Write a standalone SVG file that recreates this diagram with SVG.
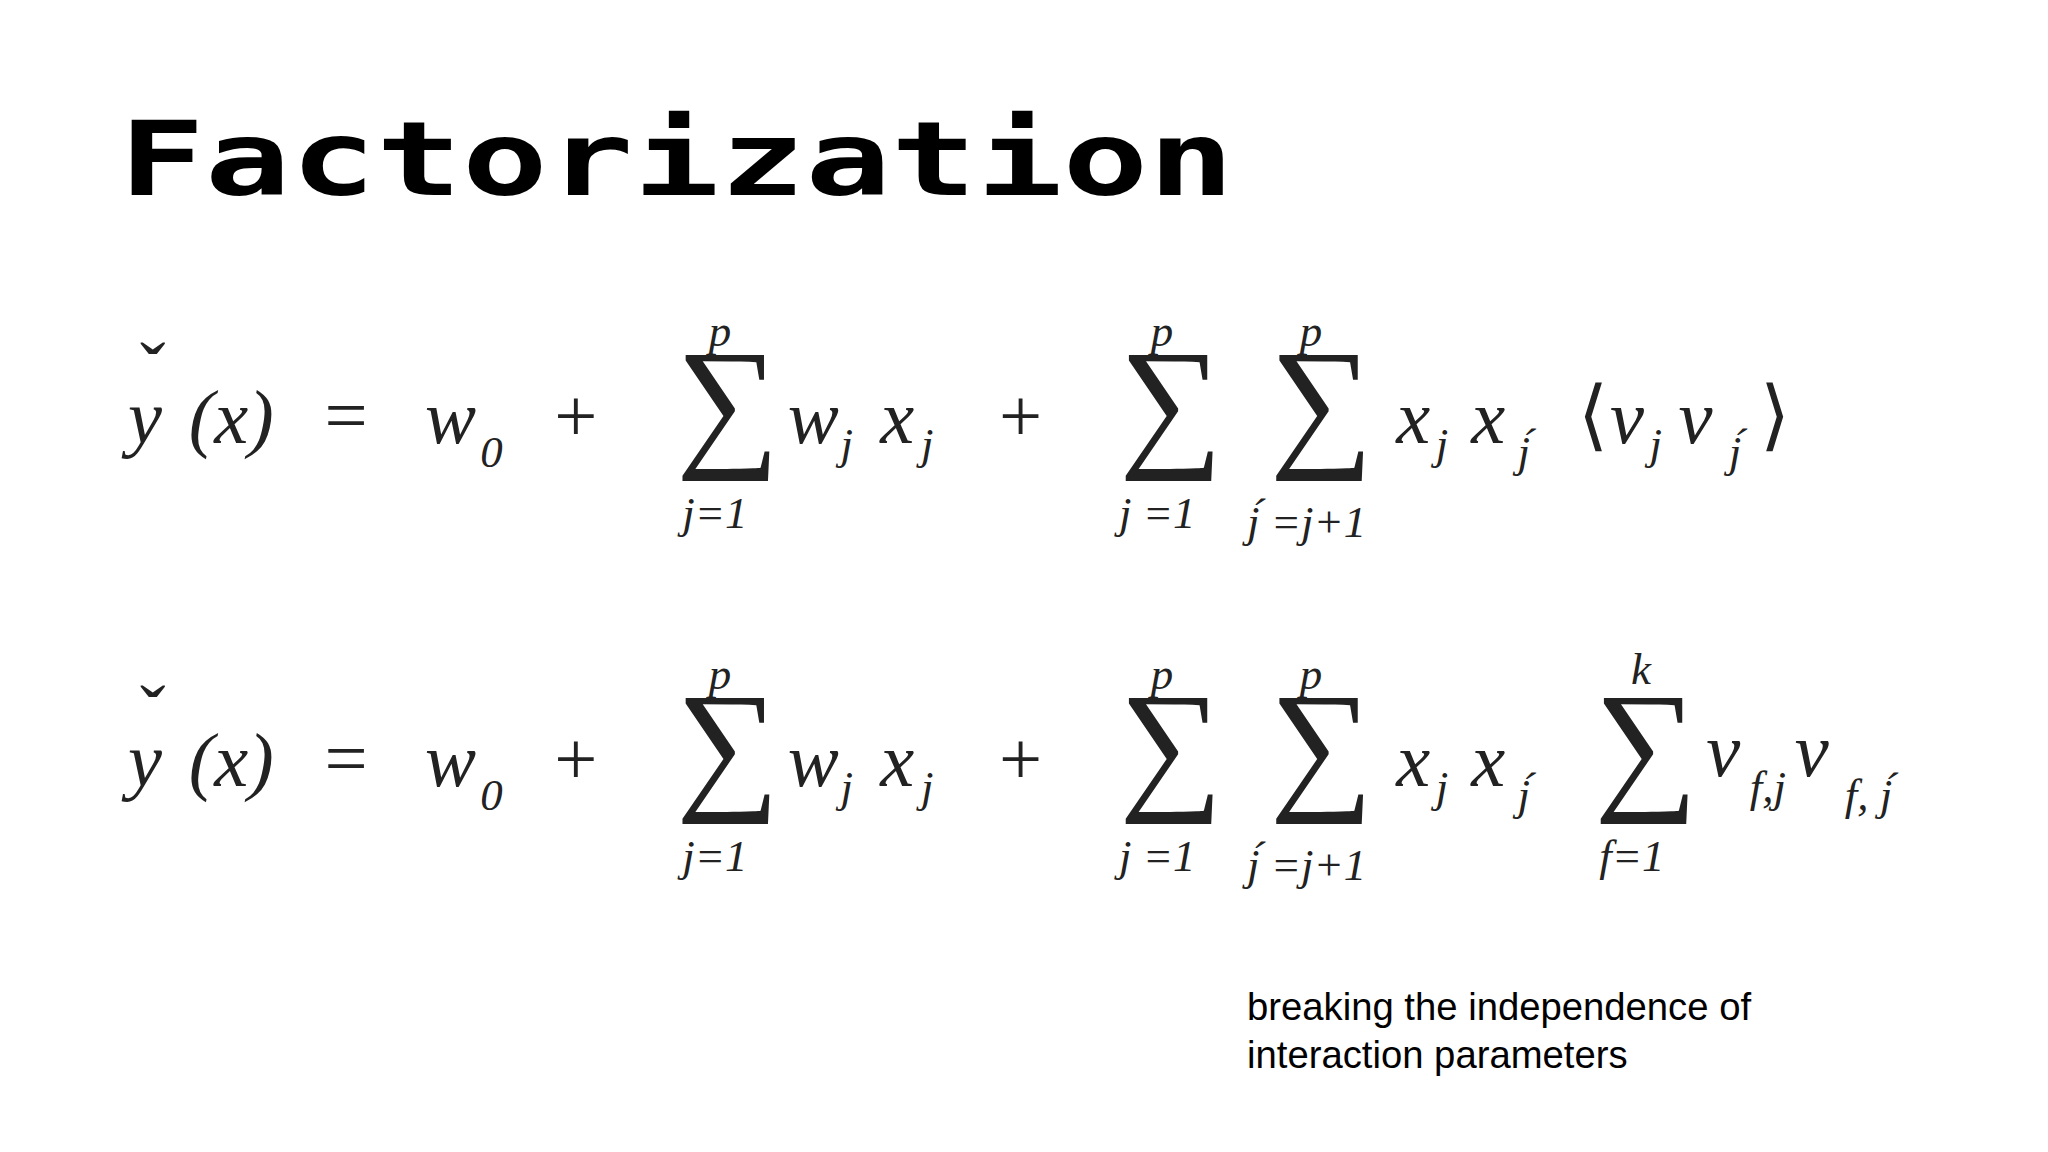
<svg xmlns="http://www.w3.org/2000/svg" width="2048" height="1152" viewBox="0 0 2048 1152">
<style>
.m{font-family:"Liberation Serif",serif;font-style:italic;fill:#222;font-size:58px}
.s{font-family:"Liberation Serif",serif;font-style:italic;fill:#222;font-size:34px}
.o{font-family:"Liberation Serif",serif;fill:#222;font-size:58px}
.S{font-family:"Liberation Serif",serif;fill:#222;font-size:110px}
.c{font-family:"Liberation Sans",sans-serif;fill:#000;font-size:29px}
</style>
<rect width="2048" height="1152" fill="#fff"/>
<g id="title"><text x="119" y="195" font-family="DejaVu Sans Mono,monospace" font-weight="bold" font-size="104" textLength="1115" lengthAdjust="spacingAndGlyphs" fill="#000">Factorization</text></g>
<g transform="scale(1.3196)">
<g id="eq1">
<text class="m" x="97" y="336">y</text><text class="o" x="106" y="300" font-size="40">ˇ</text>
<text class="m" x="143" y="336">(x)</text>
<text class="o" x="246" y="334">=</text>
<text class="m" x="322" y="336">w</text><text class="s" x="364" y="354">0</text>
<text class="o" x="420" y="334">+</text>
<text class="S" x="512" y="341">∑</text><text class="s" x="537" y="262">p</text><text class="s" x="517" y="400">j=1</text>
<text class="m" x="597" y="336">w</text><text class="s" x="637" y="348">j</text>
<text class="m" x="667" y="336">x</text><text class="s" x="698" y="348">j</text>
<text class="o" x="757" y="334">+</text>
<text class="S" x="848" y="341">∑</text><text class="s" x="872" y="262">p</text><text class="s" x="848" y="400">j =1</text>
<text class="S" x="962" y="341">∑</text><text class="s" x="985" y="262">p</text><text class="s" x="945" y="407">j́ =j+1</text>
<text class="m" x="1058" y="336">x</text><text class="s" x="1088" y="348">j</text>
<text class="m" x="1115" y="336">x</text><text class="s" x="1150" y="354">j́</text>
<text class="o" x="1196" y="334">⟨</text>
<text class="m" x="1220" y="336">v</text><text class="s" x="1250" y="348">j</text>
<text class="m" x="1272" y="336">v</text><text class="s" x="1310" y="354">j́</text>
<text class="o" x="1334" y="334">⟩</text>
</g>
<g id="eq2" transform="translate(0,260)">
<text class="m" x="97" y="336">y</text><text class="o" x="106" y="300" font-size="40">ˇ</text>
<text class="m" x="143" y="336">(x)</text>
<text class="o" x="246" y="334">=</text>
<text class="m" x="322" y="336">w</text><text class="s" x="364" y="354">0</text>
<text class="o" x="420" y="334">+</text>
<text class="S" x="512" y="341">∑</text><text class="s" x="537" y="262">p</text><text class="s" x="517" y="400">j=1</text>
<text class="m" x="597" y="336">w</text><text class="s" x="637" y="348">j</text>
<text class="m" x="667" y="336">x</text><text class="s" x="698" y="348">j</text>
<text class="o" x="757" y="334">+</text>
<text class="S" x="848" y="341">∑</text><text class="s" x="872" y="262">p</text><text class="s" x="848" y="400">j =1</text>
<text class="S" x="962" y="341">∑</text><text class="s" x="985" y="262">p</text><text class="s" x="945" y="407">j́ =j+1</text>
<text class="m" x="1058" y="336">x</text><text class="s" x="1088" y="348">j</text>
<text class="m" x="1115" y="336">x</text><text class="s" x="1150" y="354">j́</text>
<text class="S" x="1208" y="341">∑</text><text class="s" x="1236" y="258">k</text><text class="s" x="1212" y="400">f=1</text>
<text class="m" x="1293" y="328">v</text><text class="s" x="1326" y="348">f,j</text>
<text class="m" x="1360" y="328">v</text><text class="s" x="1398" y="354">f, j́</text>
</g>
<g id="caption">
<text class="c" x="945" y="773">breaking the independence of</text>
<text class="c" x="945" y="809">interaction parameters</text>
</g>
</g>
</svg>
